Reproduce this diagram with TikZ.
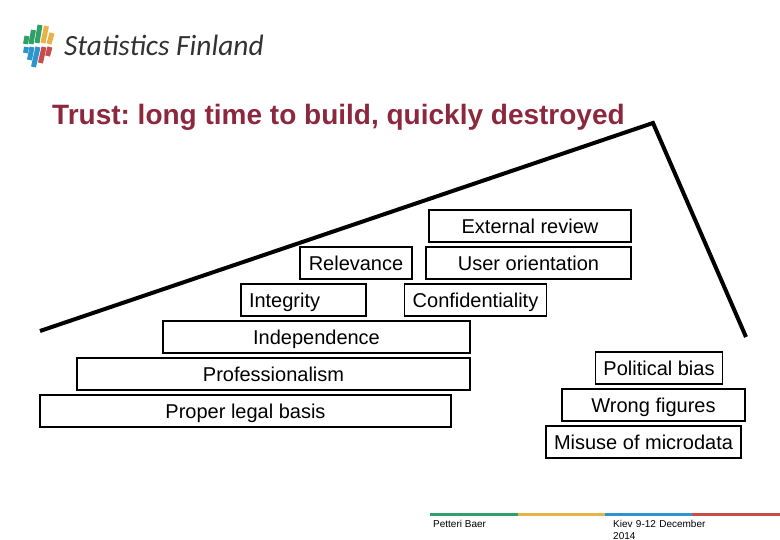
\documentclass[tikz,border=0pt]{standalone}
\usepackage{fontspec}
\setmainfont{Liberation Sans}
\newfontfamily\logofont{Carlito}
\definecolor{titlered}{RGB}{140,40,62}
\definecolor{sfgreen}{RGB}{46,160,104}
\definecolor{sfyellow}{RGB}{232,178,72}
\definecolor{sfblue}{RGB}{46,148,204}
\definecolor{sfred}{RGB}{200,76,76}
\definecolor{logotext}{RGB}{50,50,50}
\tikzset{
    fact/.style={draw,line width=1.6pt,minimum height=32,text height=17.5,text depth=2.5,inner xsep=8,inner ysep=0,font=\fontsize{20}{24}\selectfont},
    slide/.style={anchor=north west,inner sep=0,font=\fontsize{10}{12.5}\selectfont},
}
\begin{document}
\begin{tikzpicture}[x=1pt,y=-1pt]
    \useasboundingbox (0,0) rectangle (780,540);

    %Logo
    \foreach \col/\xa/\ya/\xb/\yb in {sfgreen/25.5/44/27/36,sfgreen/31/44/33.5/30,sfgreen/37/43/40/25,sfyellow/43/43/46.5/26,sfyellow/49/44/52/33,
        sfblue/26.5/47/25.5/53,sfblue/32/47/29.5/60,sfblue/38/47/33.5/67,sfred/44/47/40.5/63,sfred/50/47/47.5/56}
        \draw[\col,line width=5] (\xa,\ya) -- (\xb,\yb);
    \node[anchor=west,inner sep=0,text=logotext,font=\logofont\fontsize{29.4}{34}\selectfont] (logo) at (64,45) {\textit{Statistics Finland}};

    %Title
    \node[anchor=base west,inner sep=0,text=titlered,font=\bfseries\fontsize{28}{32}\selectfont] (title) at (52,124.5) {\frenchspacing Trust: long time to build, quickly destroyed};

    %Mountain
    \coordinate (start) at (40,331);
    \coordinate (peak) at (653,123);
    \coordinate (end) at (746,337);
    \draw[line width=4] (start) -- (peak) -- (end);

    %Left stack
    \node[fact,minimum width=202] (review) at (530,226) {External review};
    \node[fact,minimum width=205] (orientation) at (528.5,263) {User orientation};
    \node[fact,minimum width=112] (relevance) at (356,263) {Relevance};
    \node[fact,minimum width=125,text width=109,align=left] (integrity) at (303.5,300) {Integrity};
    \node[fact,minimum width=141] (confidentiality) at (475.5,300) {Confidentiality};
    \node[fact,minimum width=307] (independence) at (316.5,337) {Independence};
    \node[fact,minimum width=393] (professionalism) at (273.5,374) {Professionalism};
    \node[fact,minimum width=411] (legal) at (245.5,411) {Proper legal basis};

    %Right stack
    \node[fact,minimum width=126] (bias) at (659,368) {Political bias};
    \node[fact,minimum width=183] (figures) at (653.5,405) {Wrong figures};
    \node[fact,minimum width=195] (misuse) at (643.5,442) {Misuse of microdata};

    %Footer
    \foreach \col/\xa/\xb in {sfgreen/430/518,sfyellow/518/605,sfblue/605/692,sfred/692/780}
        \draw[\col,line width=3] (\xa,514.5) -- (\xb,514.5);
    \node[slide] (author) at (433,520) {Petteri Baer};
    \node[slide,text width=110,align=left] (place) at (613,520) {Kiev 9-12 December 2014};
\end{tikzpicture}
\end{document}
